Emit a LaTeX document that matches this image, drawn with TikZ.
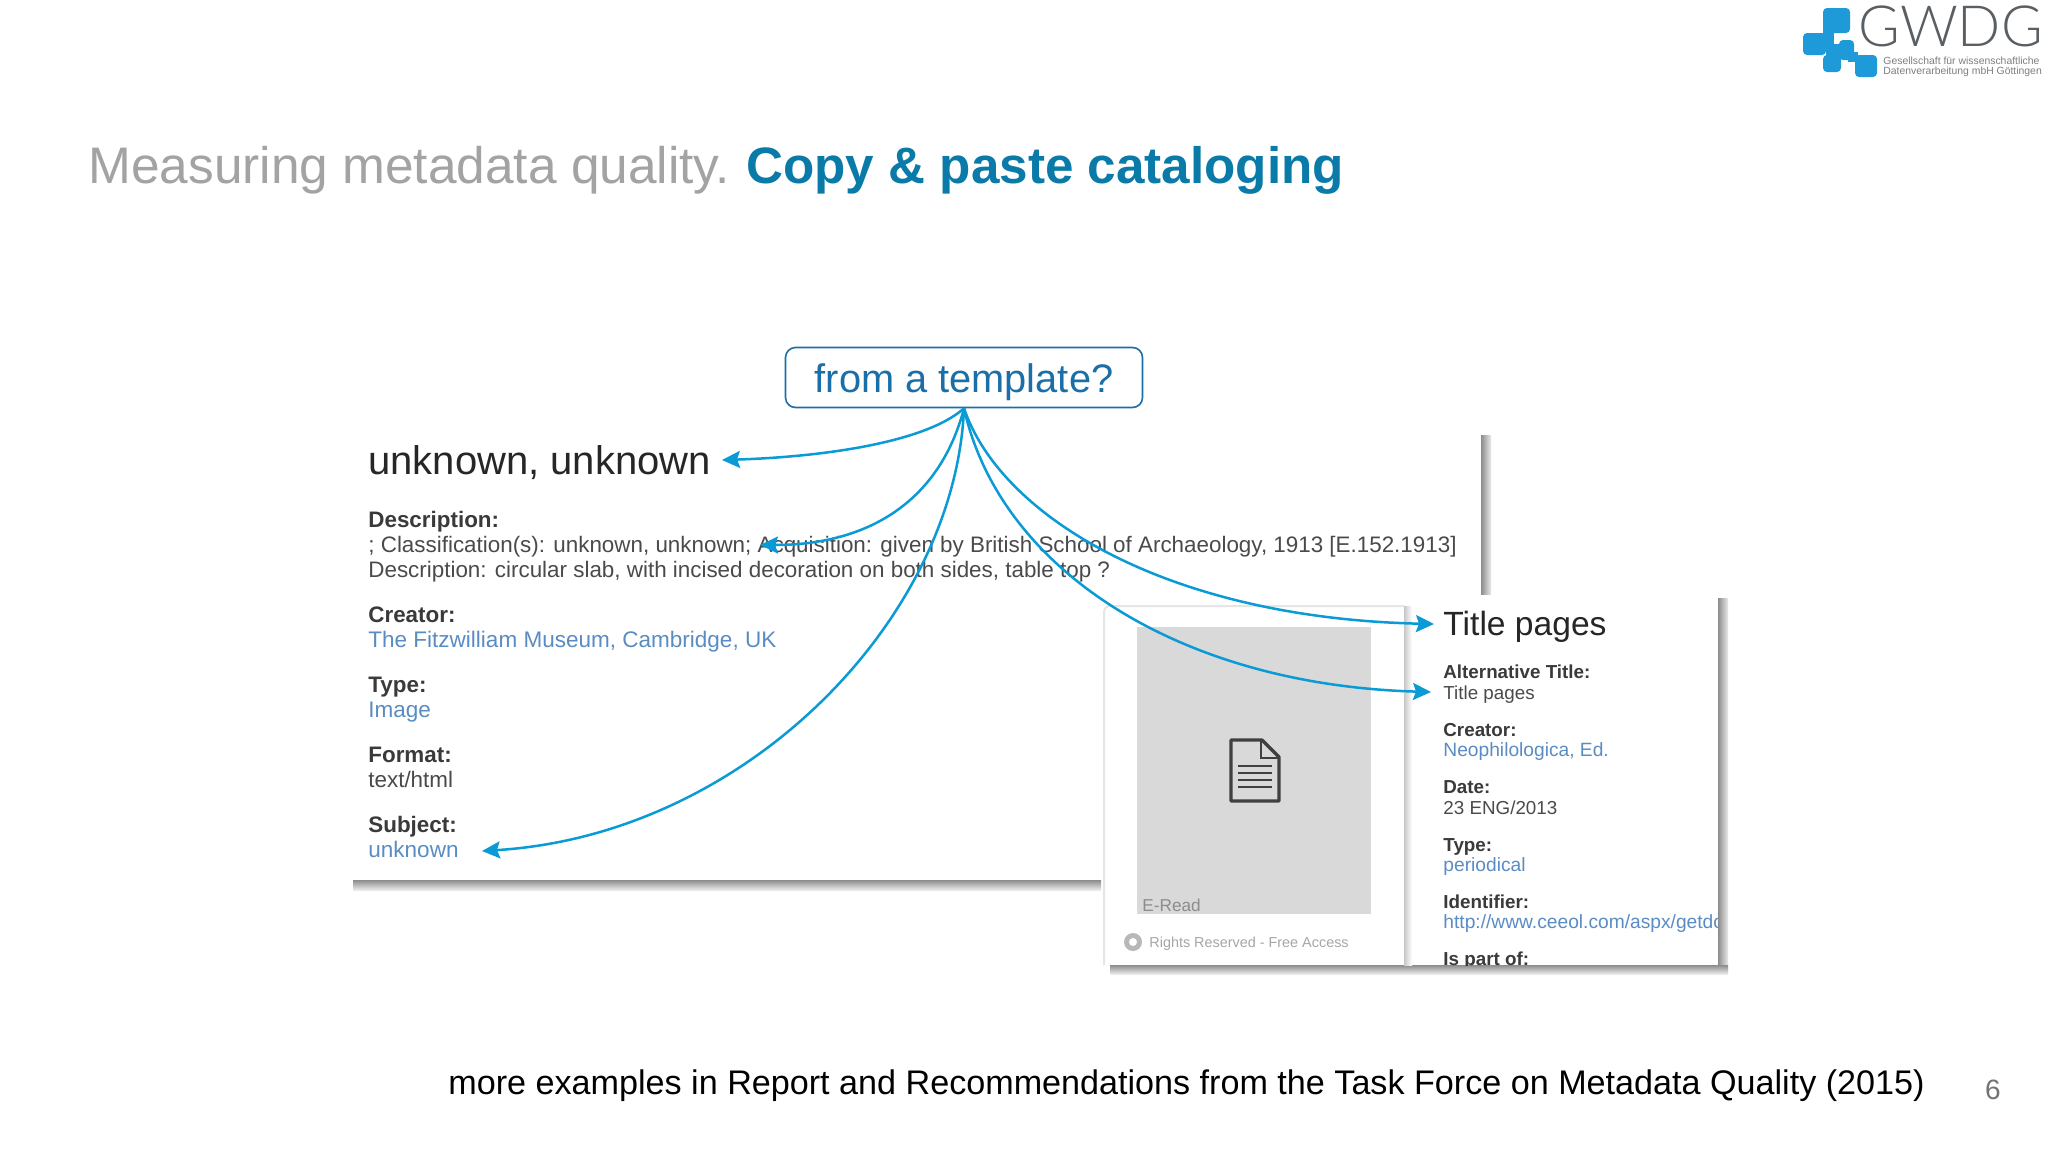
\documentclass[tikz,border=0pt]{standalone}
\usepackage{fontspec}
\setmainfont{Liberation Sans}
\newfontfamily\logofont{Lato Light}
\definecolor{titlegray}{HTML}{A3A3A3}
\definecolor{titleblue}{HTML}{0A7BA8}
\definecolor{boxblue}{HTML}{1B6FA8}
\definecolor{arrowblue}{HTML}{0A9AD6}
\definecolor{linkblue}{HTML}{5A8CC4}
\definecolor{labeldark}{HTML}{3A3A3A}
\definecolor{plaindark}{HTML}{4A4A4A}
\definecolor{logoblue}{HTML}{1E9AD8}
\definecolor{logogray}{HTML}{5A5F63}
\usetikzlibrary{arrows.meta}
\tikzset{
  txt/.style={anchor=base west,inner sep=0pt,font=\fontsize{11.2}{13}\selectfont,text=plaindark},
  lab/.style={txt,font=\fontsize{11.2}{13}\selectfont\bfseries,text=labeldark},
  lnk/.style={txt,font=\fontsize{11.26}{13}\selectfont,text=linkblue},
  stxt/.style={anchor=base west,inner sep=0pt,font=\fontsize{9.4}{11}\selectfont,text=plaindark},
  slab/.style={stxt,font=\fontsize{9.4}{11}\selectfont\bfseries,text=labeldark},
  slnk/.style={stxt,font=\fontsize{9.6}{11}\selectfont,text=linkblue},
  conn/.style={arrowblue,line width=1.25pt,-{Stealth[length=9pt,width=8.5pt,inset=1.5pt]}},
  logosq/.style={fill=logoblue,rounded corners=2pt},
  barh/.style={top color=black!45,bottom color=black!8,draw=none},
  barv/.style={left color=black!45,right color=black!8,draw=none},
}
\begin{document}
\begin{tikzpicture}[x=0.5pt,y=-0.5pt]
\useasboundingbox (0,0) rectangle (2048,1152);
\fill[white] (0,0) rectangle (2048,1152);
% logo
\fill[logosq] (1823,8) rectangle (1850,33);
\fill[logosq] (1803,33) rectangle (1826,55);
\fill[logoblue] (1823,30) rectangle (1834,44);
\fill[logosq] (1839,40) rectangle (1854,60);
\fill[logosq] (1823,55) rectangle (1841,72);
\fill[logoblue] (1826,44) rectangle (1840,58);
\fill[logosq] (1855,55) rectangle (1877,77);
\fill[logoblue] (1848,52) rectangle (1858,62);
\node[anchor=base west,inner sep=0pt,text=logogray,font=\logofont\fontsize{28.4}{28}\selectfont] (gwdg) at (1858,46) {GWDG};
\node[anchor=west,inner sep=0pt,text=logogray!80,font=\fontsize{5.2}{6}\selectfont] (lg1) at (1883,61) {Gesellschaft für wissenschaftliche};
\node[anchor=west,inner sep=0pt,text=logogray!80,font=\fontsize{5.2}{6}\selectfont] (lg2) at (1883,72) {Datenverarbeitung mbH Göttingen};
% title
\node[anchor=base west,inner sep=0pt,text=titlegray,font=\fontsize{25.7}{30}\selectfont] (t1) at (88,183) {Measuring metadata quality.};
\node[anchor=base west,inner sep=0pt,text=titleblue,font=\fontsize{25.6}{30}\selectfont\bfseries] (t2) at (746,183) {Copy \& paste cataloging};
% first record
\shade[barv] (1481,435) rectangle (1491,594);
\shade[barh] (353,880) rectangle (1101,890);
\node[anchor=base west,inner sep=0pt,text=black!85,font=\fontsize{20}{22}\selectfont] (r1) at (368,474) {unknown, unknown};
\node[lab] (a1) at (368,527) {Description:};
\node[txt] (a2) at (368,552.5) {; Classification(s): unknown, unknown; Acquisition: given by British School of Archaeology, 1913 [E.152.1913]};
\node[txt] (a3) at (368,577) {Description: circular slab, with incised decoration on both sides, table top ?};
\node[lab] (a4) at (368,622.5) {Creator:};
\node[lnk] (a5) at (368,647) {The Fitzwilliam Museum, Cambridge, UK};
\node[lab] (a6) at (368,692) {Type:};
\node[lnk] (a7) at (368,717) {Image};
\node[lab] (a8) at (368,762.5) {Format:};
\node[txt] (a9) at (368,787) {text/html};
\node[lab] (a10) at (368,832.5) {Subject:};
\node[lnk] (a11) at (368,857) {unknown};
% second record
\shade[barv] (1718,598) rectangle (1728,973);
\shade[barh] (1110,965) rectangle (1728,974);
\fill[white] (1104,606) rectangle (1718,965);
\draw[black!10,line width=1pt] (1104,965) -- (1104,612) [rounded corners=3pt] -- (1104,606) -- (1404,606);
\shade[left color=black!22,right color=white,draw=none] (1404,606) rectangle (1412,965);
\fill[black!15] (1137,627) rectangle (1371,914);
\draw[black!75,line width=1.6pt,line join=round] (1231,740) -- (1262,740) -- (1279,757) -- (1279,801) -- (1231,801) -- cycle;
\draw[black!75,line width=1pt] (1261,741) -- (1261,758) -- (1278,758);
\foreach \yy in {766,773,780,787}{\draw[black!75,line width=1pt] (1238,\yy) -- (1272,\yy);}
\node[anchor=base west,inner sep=0pt,text=black!45,font=\fontsize{8.6}{9}\selectfont] (rd) at (1142,911) {E-Read};
\fill[black!28] (1133,942) circle (9);
\fill[white] (1133,942) circle (4);
\node[anchor=base west,inner sep=0pt,text=black!35,font=\fontsize{7.2}{8}\selectfont] (rr) at (1149,947) {Rights Reserved - Free Access};
\node[anchor=base west,inner sep=0pt,text=black!85,font=\fontsize{16.8}{18}\selectfont] (r2) at (1443,635) {Title pages};
\node[slab] (b1) at (1443,678) {Alternative Title:};
\node[stxt] (b2) at (1443,699) {Title pages};
\node[slab] (b3) at (1443,736) {Creator:};
\node[slnk] (b4) at (1443,756) {Neophilologica, Ed.};
\node[slab] (b5) at (1443,793) {Date:};
\node[stxt] (b6) at (1443,814) {23 ENG/2013};
\node[slab] (b7) at (1443,851) {Type:};
\node[slnk] (b8) at (1443,871.5) {periodical};
\node[slab] (b9) at (1443,908) {Identifier:};
\begin{scope}
\clip (1400,600) rectangle (1717,965);
\node[slnk] (b10) at (1443,928) {http://www.ceeol.com/aspx/getdoc};
\node[slab] (b11) at (1443,965) {Is part of:};
\end{scope}
% template box
\node[draw=boxblue,line width=0.8pt,rounded corners=5pt,fill=white,minimum width=178.5pt,minimum height=30pt,inner sep=0pt,text=boxblue,text height=19pt,text depth=4pt,font=\fontsize{19.9}{22}\selectfont] (tpl) at (964,377.5) {from a template?};
% targets
\coordinate (e1) at (722,460);
\coordinate (e2) at (760,545);
\coordinate (e3) at (482,851);
\coordinate (e4) at (1434,624);
\coordinate (e5) at (1431,692);
\draw[conn] (tpl.south) .. controls (925,443) and (820,457) .. (e1);
\draw[conn] (tpl.south) .. controls (940,500) and (870,545) .. (e2);
\draw[conn] (tpl.south) .. controls (955,620) and (745,835) .. (e3);
\draw[conn] (tpl.south) .. controls (1000,515) and (1165,618) .. (e4);
\draw[conn] (tpl.south) .. controls (1000,570) and (1180,685) .. (e5);
% footer
\node[anchor=base west,inner sep=0pt,text=black,font=\fontsize{17.07}{20}\selectfont] (ft) at (448,1094) {more examples in Report and Recommendations from the Task Force on Metadata Quality (2015)};
\node[inner sep=0pt,text=black!55,font=\fontsize{14}{16}\selectfont] (pg) at (1993,1090) {6};
\end{tikzpicture}
\end{document}
